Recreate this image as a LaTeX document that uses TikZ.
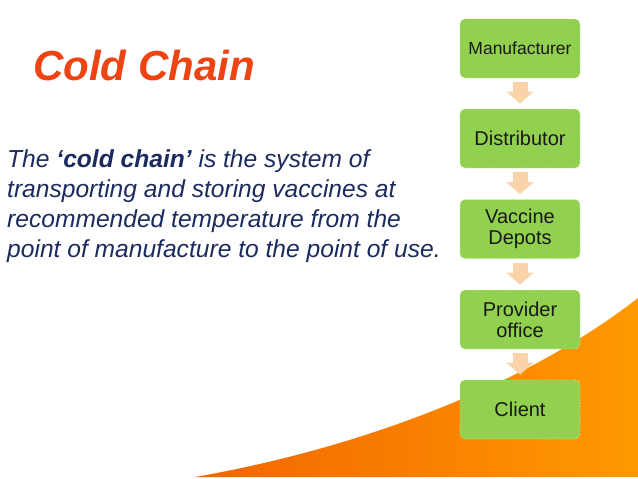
\documentclass[tikz,border=0pt]{standalone}
\usepackage{fontspec}
\setmainfont{Liberation Sans}
\usetikzlibrary{arrows.meta}
\definecolor{titlered}{HTML}{EE4312}
\definecolor{bodyblue}{HTML}{1C2B5E}
\definecolor{boxgreen}{HTML}{92D050}
\definecolor{boxedge}{HTML}{D4EDA8}
\definecolor{peach}{HTML}{FAD4A8}
\definecolor{orangeL}{HTML}{F26500}
\definecolor{orangeR}{HTML}{FF9A00}
\begin{document}
\begin{tikzpicture}[x=1pt,y=-1pt,
  stage/.style={draw=boxedge, dotted, line width=0.8pt, fill=boxgreen, rounded corners=5pt,
    minimum width=120pt, minimum height=59pt, inner sep=2pt, align=center,
    text=black!90, font=\fontsize{20}{21}\selectfont},
  flow/.style={draw=peach, line width=15pt, -{Triangle[width=27pt,length=12pt]},
    shorten <=4pt, shorten >=5pt}]
\useasboundingbox (0,0) rectangle (638,479);
\fill[white] (0,0) rectangle (638,479);
\shade[left color=orangeL, right color=orangeR]
  (195,477) .. controls (350,450) and (520,390) .. (638,298) -- (638,477) -- cycle;
\node[anchor=base west, inner sep=0, text=titlered,
  font=\fontsize{42}{42}\selectfont\bfseries\itshape] (title) at (33,80) {Cold Chain};
\node[anchor=base west, inner sep=0, align=left, text=bodyblue,
  font=\fontsize{24.6}{30}\selectfont\itshape] (desc) at (7,257)
  {The \textbf{‘cold chain’} is the system of\\transporting and storing vaccines at\\recommended temperature from the\\point of manufacture to the point of use.};
\node[stage, font=\fontsize{17.5}{21}\selectfont] (man) at (520,48.5) {Manufacturer};
\node[stage] (dis) at (520,138.5) {Distributor};
\node[stage] (dep) at (520,229) {Vaccine\\Depots};
\node[stage] (pro) at (520,319.5) {Provider\\office};
\node[stage] (cli) at (520,409.5) {Client};
\draw[flow] (man) -- (dis);
\draw[flow] (dis) -- (dep);
\draw[flow] (dep) -- (pro);
\draw[flow] (pro) -- (cli);
\end{tikzpicture}
\end{document}
